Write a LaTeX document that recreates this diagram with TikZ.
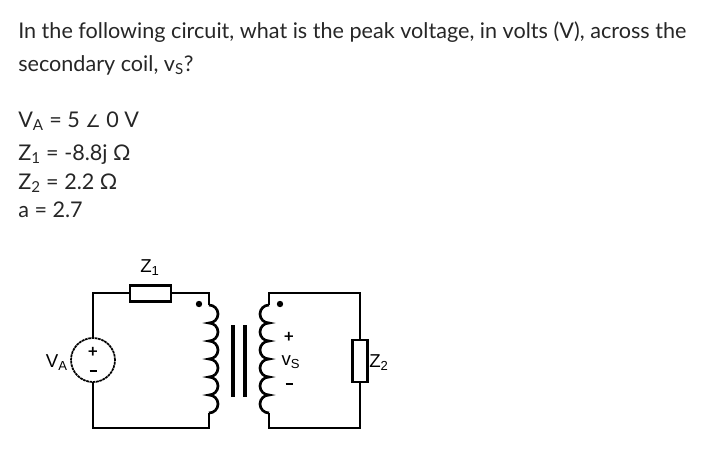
\documentclass[tikz,border=0pt]{standalone}
\usepackage{fontspec}
\setmainfont{Lato}
\newfontfamily\arialf{Liberation Sans}
\begin{document}
\begin{tikzpicture}[x=0.75pt,y=-0.75pt,
  txt/.style={anchor=base west,inner sep=0pt,font=\fontsize{16.2pt}{19pt}\selectfont,text=black!85},
  lab/.style={inner sep=0pt,font=\arialf\fontsize{14pt}{16pt}\selectfont},
  wire/.style={line width=2pt},
  box/.style={draw,line width=2pt,fill=white,inner sep=0pt}]
\useasboundingbox (0,0) rectangle (721,472);
\node[txt] (q1) at (18,38) {In the following circuit, what is the peak voltage, in volts (V), across the};
\node[txt] (q2) at (18,71) {secondary coil, v\textsubscript{S}?};
\node[txt] (g1) at (18,127) {V\textsubscript{A} = 5 \fontspec{DejaVu Sans}\selectfont\scalebox{0.8}{∠}\normalfont{} 0 V};
\node[txt] (g2) at (18,160) {Z\textsubscript{1} = -8.8j Ω};
\node[txt] (g3) at (18,189) {Z\textsubscript{2} = 2.2 Ω};
\node[txt] (g4) at (18,217) {a = 2.7};
% primary loop
\draw[wire] (93,338) -- (93,293) -- (209,293) -- (209,305);
\draw[wire] (209,413) -- (209,428) -- (93,428) -- (93,382);
\draw[wire] (209,305) \foreach \i in {0,...,5} { arc[start angle=-90,end angle=90,radius=9] };
% secondary loop
\draw[wire] (269,305) -- (269,293) -- (360,293) -- (360,428) -- (269,428) -- (269,413);
\draw[wire] (269,305) \foreach \i in {0,...,5} { arc[start angle=-90,end angle=-270,radius=9] };
% core
\draw[line width=3pt] (233,325) -- (233,397) (245,325) -- (245,397);
% Z1, Z2
\node[box,minimum width=41*0.75pt,minimum height=16*0.75pt] (z1) at (150.5,293.5) {};
\node[box,minimum width=15*0.75pt,minimum height=42*0.75pt] (z2) at (360,361) {};
\node[lab] at (150,268) {Z\textsubscript{1}};
\node[lab,anchor=west] at (369,363) {Z\textsubscript{2}};
% source
\node[draw,circle,dashed,dash pattern=on 2pt off 0.5pt,line width=1.3pt,minimum size=44*0.75pt,inner sep=0pt] (src) at (93,360) {};
\node[font=\bfseries\fontsize{13pt}{13pt}\selectfont,inner sep=0pt] at (93,352) {+};
\draw[line width=1.8pt] (89.5,371) -- (96.5,371);
\node[lab,anchor=east] at (68,363) {V\textsubscript{A}};
% dots
\fill (199,304) circle (3.2);
\fill (280,304) circle (3.2);
% vs label
\node[font=\bfseries\fontsize{13pt}{13pt}\selectfont,inner sep=0pt] at (289,337) {+};
\node[lab] at (291,362) {v\textsubscript{S}};
\draw[line width=1.8pt] (285.5,384) -- (292.5,384);
\end{tikzpicture}
\end{document}
